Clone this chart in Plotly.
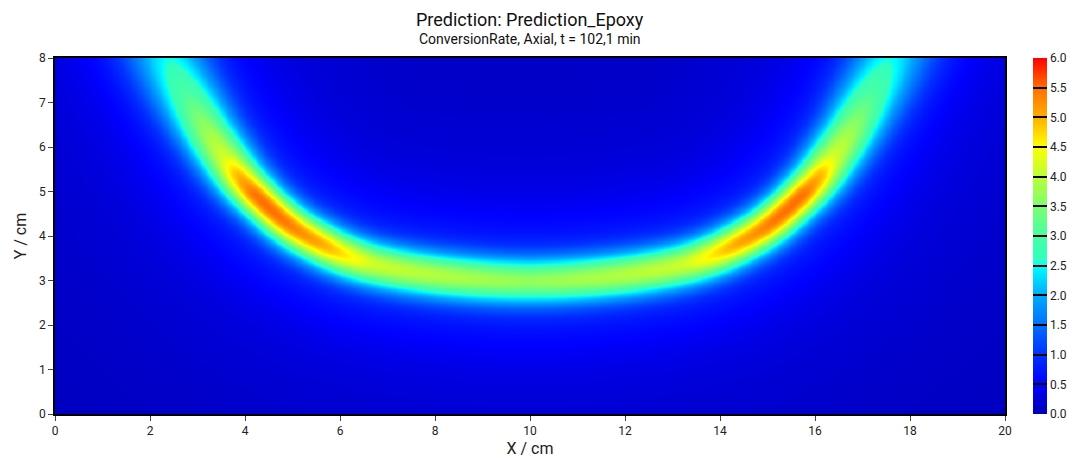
import numpy as np
import plotly.graph_objects as go

# ---- values ----
# left half of the band centreline (x, y in cm), from above the top edge down to the bowl bottom
center_x_left = [1.95, 2.36, 2.86, 3.42, 4.15, 5.3, 7.0, 9.97]
center_y_left = [9.0, 8.0, 7.0, 6.0, 5.0, 4.0, 3.3, 3.0]
mirror_x = 9.97
# base band intensity along arc length from the bowl bottom (cm)
band_s = [0.0, 3.0, 4.5, 6.0, 7.3, 8.0, 9.0, 10.0, 11.0]
band_amp = [2.75, 3.15, 3.5, 3.55, 3.3, 2.85, 2.1, 1.5, 1.2]
band_w_s = [0.0, 6.0, 8.0, 10.0, 11.0]
band_w = [0.36, 0.35, 0.42, 0.55, 0.6]
# hot ridge (orange core) along the arc
hot_s = [3.3, 4.3, 5.5, 6.3, 6.9, 7.35]
hot_amp = [0.0, 0.55, 1.0, 1.05, 0.6, 0.0]
hot_width = 0.24
# halo and background
halo_amp = 0.6
halo_width = 1.0
glow_amp = 0.25
glow_width = 2.6
background = 0.08

x_ticks = [0, 2, 4, 6, 8, 10, 12, 14, 16, 18, 20]
y_ticks = [0, 1, 2, 3, 4, 5, 6, 7, 8]
cbar_ticks = [0.0, 0.5, 1.0, 1.5, 2.0, 2.5, 3.0, 3.5, 4.0, 4.5, 5.0, 5.5, 6.0]

color_stops = [
    (0.0, "rgb(0,0,180)"), (0.5, "rgb(0,0,255)"), (1.0, "rgb(0,50,255)"),
    (1.5, "rgb(0,110,255)"), (2.0, "rgb(0,170,255)"), (2.5, "rgb(0,255,255)"),
    (2.6, "rgb(50,255,190)"), (3.0, "rgb(70,255,165)"), (3.5, "rgb(125,255,110)"),
    (4.0, "rgb(185,255,55)"), (4.5, "rgb(255,255,0)"), (5.0, "rgb(255,175,0)"),
    (5.5, "rgb(255,110,0)"), (6.0, "rgb(255,0,0)"),
]

# ---- build the field ----
px = np.array(center_x_left + [2 * mirror_x - v for v in center_x_left[-2::-1]])
py = np.array(center_y_left + center_y_left[-2::-1])


def catmull_rom(xs, ys, n=60):
    P = np.stack([xs, ys], axis=1)
    P = np.vstack([P[0] * 2 - P[1], P, P[-1] * 2 - P[-2]])
    out = []
    t = np.linspace(0, 1, n, endpoint=False)[:, None]
    for i in range(1, len(P) - 2):
        p0, p1, p2, p3 = P[i - 1], P[i], P[i + 1], P[i + 2]
        pt = 0.5 * ((2 * p1) + (-p0 + p2) * t + (2 * p0 - 5 * p1 + 4 * p2 - p3) * t ** 2
                    + (-p0 + 3 * p1 - 3 * p2 + p3) * t ** 3)
        out.append(pt)
    out.append(P[-2][None, :])
    return np.vstack(out)


curve = catmull_rom(px, py)
seg = np.hypot(np.diff(curve[:, 0]), np.diff(curve[:, 1]))
cum = np.concatenate([[0], np.cumsum(seg)])
mid = len(center_x_left) - 1
s_mid = cum[mid * 60]
s_curve = np.abs(cum - s_mid)

xg = np.linspace(0, 20, 401)
yg = np.linspace(0, 8, 161)
Z = np.zeros((len(yg), len(xg)))
for j, yv in enumerate(yg):
    dx = xg[:, None] - curve[None, :, 0]
    dy = yv - curve[None, :, 1]
    d2 = dx ** 2 + dy ** 2
    k = np.argmin(d2, axis=1)
    d = np.sqrt(d2[np.arange(len(xg)), k])
    s = s_curve[k]
    A = np.interp(s, band_s, band_amp)
    W = np.interp(s, band_w_s, band_w)
    H = np.interp(s, hot_s, hot_amp)
    Z[j] = (background
            + A * np.exp(-d ** 2 / (2 * W ** 2))
            + H * np.exp(-d ** 2 / (2 * hot_width ** 2))
            + halo_amp * np.exp(-d ** 2 / (2 * halo_width ** 2))
            + glow_amp * np.exp(-d ** 2 / (2 * glow_width ** 2)))

colorscale = [[v / 6.0, c] for v, c in color_stops]

fig = go.Figure(go.Heatmap(
    x=xg, y=yg, z=Z, zmin=0, zmax=6, zsmooth="best", colorscale=colorscale,
    colorbar=dict(
        x=1.0295, xanchor="left", y=0.5, yanchor="middle", len=1, lenmode="fraction",
        xpad=0, ypad=0,
        thickness=14, outlinewidth=0, tickvals=cbar_ticks,
        ticktext=[f"{v:.1f}" for v in cbar_ticks],
        ticks="inside", ticklen=14, tickcolor="black", tickwidth=1.5,
        tickfont=dict(family="Roboto", size=12, color="#222"),
    ),
))

fig.update_layout(
    width=1081, height=457, margin=dict(l=47, r=84, t=50, b=51, autoexpand=False),
    paper_bgcolor="white", plot_bgcolor="white",
    font=dict(family="Roboto", color="#222"),
    xaxis=dict(range=[0, 20], tickvals=x_ticks, ticks="outside", ticklen=5,
               showline=True, linecolor="black", linewidth=1.5, mirror=True,
               showgrid=False, zeroline=False, automargin=False,
               tickfont=dict(size=12, color="#222"),
               title=dict(text="X / cm", font=dict(size=16, color="#222"), standoff=6)),
    yaxis=dict(range=[0, 8], tickvals=y_ticks, ticks="outside", ticklen=5,
               showline=True, linecolor="black", linewidth=1.5, mirror=True,
               showgrid=False, zeroline=False, automargin=False,
               tickfont=dict(size=12, color="#222"),
               title=dict(text="Y / cm", font=dict(size=16, color="#222"), standoff=8)),
    annotations=[
        dict(text="Prediction: Prediction_Epoxy", xref="paper", yref="paper",
             x=0.5, y=1.107, xanchor="center", yanchor="middle", showarrow=False,
             borderpad=0, font=dict(size=18, color="#111")),
        dict(text="ConversionRate, Axial, t = 102,1 min", xref="paper", yref="paper",
             x=0.5, y=1.054, xanchor="center", yanchor="middle", showarrow=False,
             borderpad=0, font=dict(size=14, color="#111")),
    ],
)

fig.write_html("out.html")
